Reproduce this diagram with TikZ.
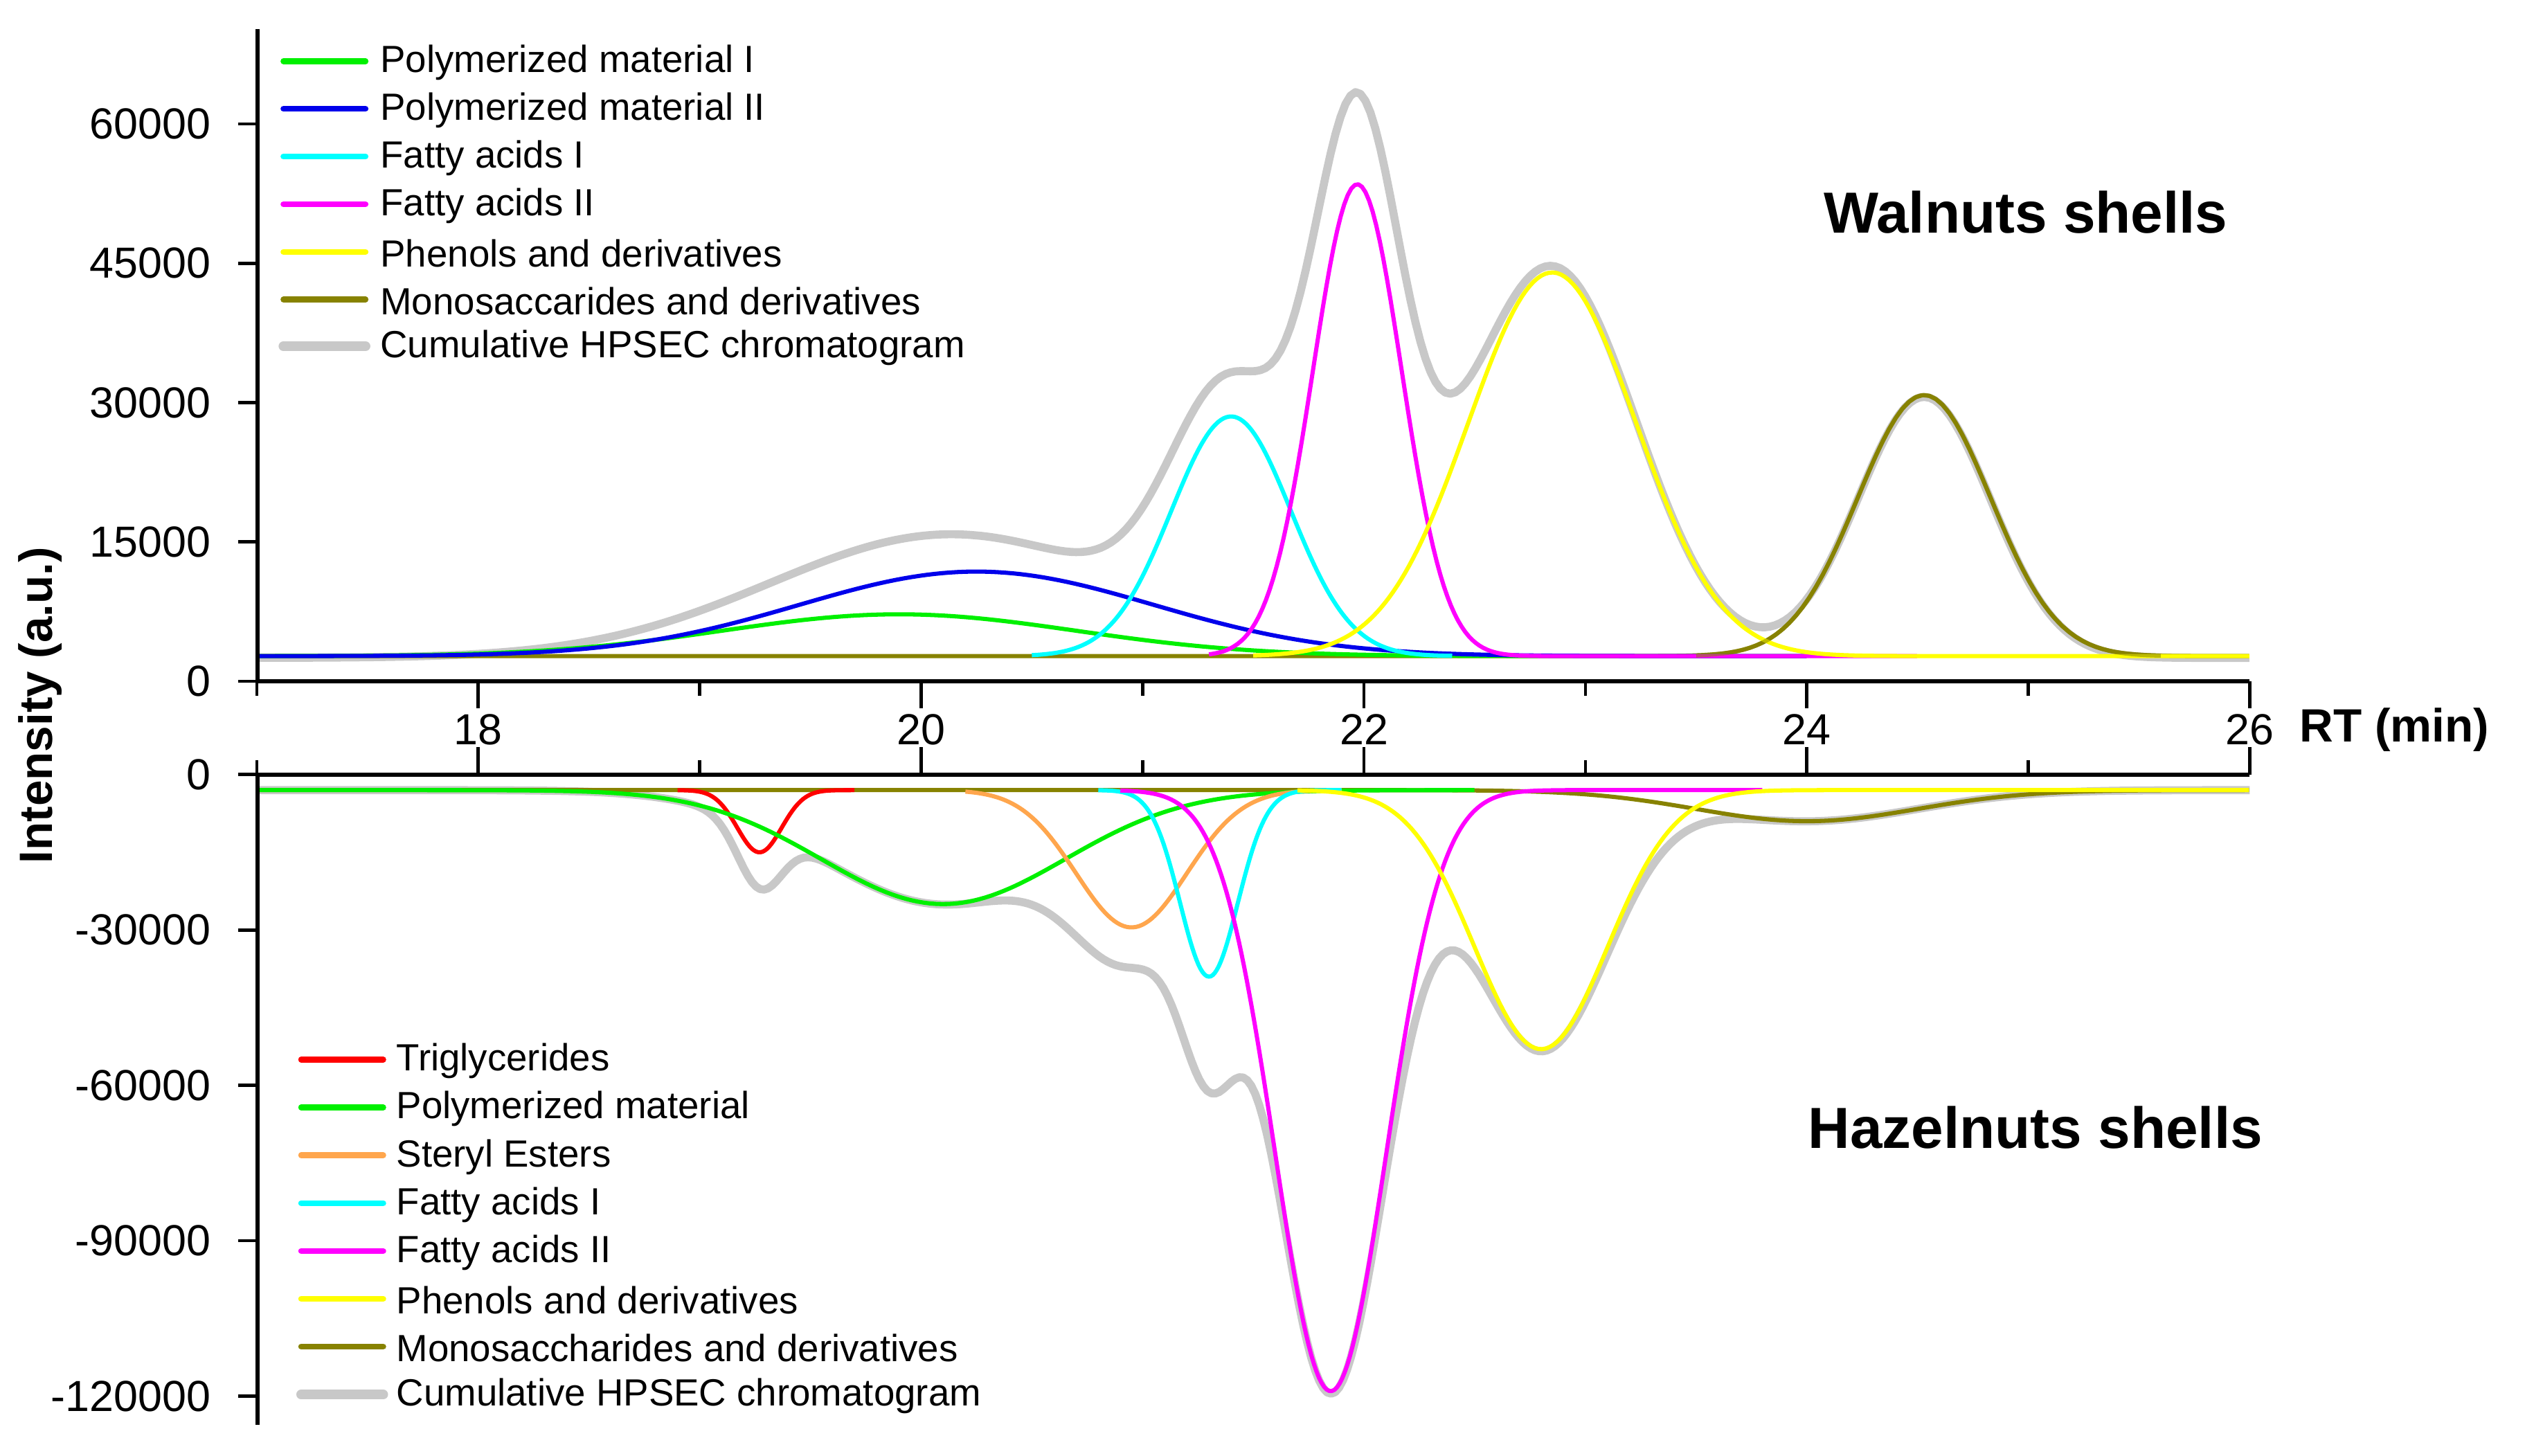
\documentclass[tikz,border=0pt]{standalone}
\usepackage{fontspec}
\setmainfont{Liberation Sans}
\definecolor{cgreen}{RGB}{0,240,0}
\definecolor{cblue}{RGB}{0,0,235}
\definecolor{ccyan}{RGB}{0,255,255}
\definecolor{cmag}{RGB}{255,0,255}
\definecolor{cyel}{RGB}{255,255,0}
\definecolor{colive}{RGB}{135,130,0}
\definecolor{cgray}{RGB}{200,200,200}
\definecolor{corange}{RGB}{255,166,77}
\definecolor{cred}{RGB}{255,0,0}
\pgfmathdeclarefunction{G}{3}{\pgfmathparse{exp(max(-40,-((#1-#2)^2)/(2*#3*#3)))}}
\begin{document}
\begin{tikzpicture}[x=1pt,y=-1pt,
  crv/.style={line width=2.6pt,line join=round},
  gcrv/.style={line width=5pt,color=cgray,line join=round},
  leg/.style={line width=3.6pt,line cap=round},
  legtxt/.style={anchor=west,font=\fontsize{23.5}{23.5}\selectfont,inner sep=0pt},
  tick/.style={line width=2pt},
  axis/.style={line width=2.4pt},
  lab/.style={font=\fontsize{27}{27}\selectfont,inner sep=0pt},
  ttl/.style={font=\fontsize{36}{36}\selectfont\bfseries,inner sep=0pt}]
\useasboundingbox (0,0) rectangle (1568,904);
\def\TX{(297+(\x-18)*137.5)}
\def\TY#1{(423-(#1)*5.7667)}
\def\BY#1{(481-(#1)*3.2167)}
\begin{scope}
\clip (160,0) rectangle (1398,430);
\draw[gcrv] plot[domain=17:26,samples=400] ({\TX},{\TY{2.5+4.5*G(\x,19.9,.8)+9.1*G(\x,20.25,.8)+25.8*G(\x,21.4,.27)+54*G(\x,21.97,.2)+42*G(\x,22.85,.38)+28.1*G(\x,24.53,.3)+2*G(\x,22.4,.2)}});
\draw[crv,colive] plot[domain=17:26,samples=300] ({\TX},{\TY{2.7+28.1*G(\x,24.53,.3)}});
\draw[crv,cgreen] plot[domain=17:24,samples=200] ({\TX},{\TY{2.7+4.5*G(\x,19.9,.8)}});
\draw[crv,cblue] plot[domain=17:24,samples=200] ({\TX},{\TY{2.7+9.1*G(\x,20.25,.8)}});
\draw[crv,ccyan] plot[domain=20.5:22.4,samples=150] ({\TX},{\TY{2.7+25.8*G(\x,21.4,.27)}});
\draw[crv,cmag] plot[domain=21.3:24.5,samples=200] ({\TX},{\TY{2.7+50.8*G(\x,21.97,.2)}});
\draw[crv,cyel] plot[domain=21.5:26,samples=250] ({\TX},{\TY{2.7+41.3*G(\x,22.85,.38)}});
\draw[crv,colive,opacity=.55] plot[domain=23.5:25.6,samples=150] ({\TX},{\TY{2.7+28.1*G(\x,24.53,.3)}});
\end{scope}
\begin{scope}
\clip (160,484) rectangle (1398,904);
\draw[gcrv] plot[domain=17:26,samples=500] ({\TX},{\BY{-3-12*G(\x,19.27,.1)-22*G(\x,20.1,.55)-26.5*G(\x,20.95,.25)-36*G(\x,21.3,.13)-116*G(\x,21.85,.25)-50*G(\x,22.8,.3)-6*G(\x,24.0,.5)}});
\draw[crv,colive] plot[domain=17:26,samples=300] ({\TX},{\BY{-3-6*G(\x,24.0,.5)}});
\draw[crv,cred] plot[domain=18.9:19.7,samples=80] ({\TX},{\BY{-3-12*G(\x,19.27,.1)}});
\draw[crv,cgreen] plot[domain=17:22.5,samples=200] ({\TX},{\BY{-3-22*G(\x,20.1,.55)}});
\draw[crv,corange] plot[domain=20.2:21.9,samples=120] ({\TX},{\BY{-3-26.5*G(\x,20.95,.25)}});
\draw[crv,ccyan] plot[domain=20.8:21.9,samples=120] ({\TX},{\BY{-3-36*G(\x,21.3,.13)}});
\draw[crv,cmag] plot[domain=20.9:23.8,samples=250] ({\TX},{\BY{-3-116*G(\x,21.85,.25)}});
\draw[crv,cyel] plot[domain=21.7:26,samples=250] ({\TX},{\BY{-3-50*G(\x,22.8,.3)}});
\end{scope}
\draw[axis] (160,18) -- (160,423) -- (1397,423);
\draw[axis] (160,885) -- (160,481) -- (1397,481);
\foreach \t in {18,20,22,24,26}{
  \draw[tick] ({297+(\t-18)*137.5},423) -- ++(0,17);
  \draw[tick] ({297+(\t-18)*137.5},481) -- ++(0,-17);
  \node[lab] at ({297+(\t-18)*137.5},453) {\t};}
\foreach \t in {17,19,21,23,25}{
  \draw[tick] ({297+(\t-18)*137.5},423) -- ++(0,9);
  \draw[tick] ({297+(\t-18)*137.5},481) -- ++(0,-9);}
\foreach \k/\v in {0/0,15/15000,30/30000,45/45000,60/60000}{
  \draw[tick] (160,{423-\k*5.7667}) -- ++(-12,0);
  \node[lab,anchor=east] at (131,{423-\k*5.7667}) {\v};}
\foreach \k/\v in {0/0,30/-30000,60/-60000,90/-90000,120/-120000}{
  \draw[tick] (160,{481+\k*3.2167}) -- ++(-12,0);
  \node[lab,anchor=east] at (131,{481+\k*3.2167}) {\v};}
\node[lab,font=\fontsize{29}{29}\selectfont\bfseries,anchor=west] (rt) at (1428,453) {RT (min)};
\node[lab,font=\fontsize{29}{29}\selectfont\bfseries,rotate=90] (yl) at (25,438) {Intensity (a.u.)};
\node[ttl] (w) at (1258,132) {Walnuts shells};
\node[ttl] (h) at (1264,700) {Hazelnuts shells};
\foreach \c/\t [count=\i from 0] in {cgreen/Polymerized material I, cblue/Polymerized material II, ccyan/Fatty acids I, cmag/Fatty acids II, cyel/Phenols and derivatives, colive/Monosaccarides and derivatives}{
  \draw[leg,\c] (176,{38+\i*29.6}) -- (227,{38+\i*29.6});
  \node[legtxt] at (236,{39+\i*29.6}) {\t};}
\draw[leg,cgray,line width=6pt] (176,215) -- (227,215);
\node[legtxt] at (236,216) {Cumulative HPSEC chromatogram};
\foreach \c/\t [count=\i from 0] in {cred/Triglycerides, cgreen/Polymerized material, corange/Steryl Esters, ccyan/Fatty acids I, cmag/Fatty acids II, cyel/Phenols and derivatives, colive/Monosaccharides and derivatives}{
  \draw[leg,\c] (187,{658+\i*29.7}) -- (238,{658+\i*29.7});
  \node[legtxt] at (246,{659+\i*29.7}) {\t};}
\draw[leg,cgray,line width=6pt] (187,866) -- (238,866);
\node[legtxt] at (246,867) {Cumulative HPSEC chromatogram};
\end{tikzpicture}
\end{document}
